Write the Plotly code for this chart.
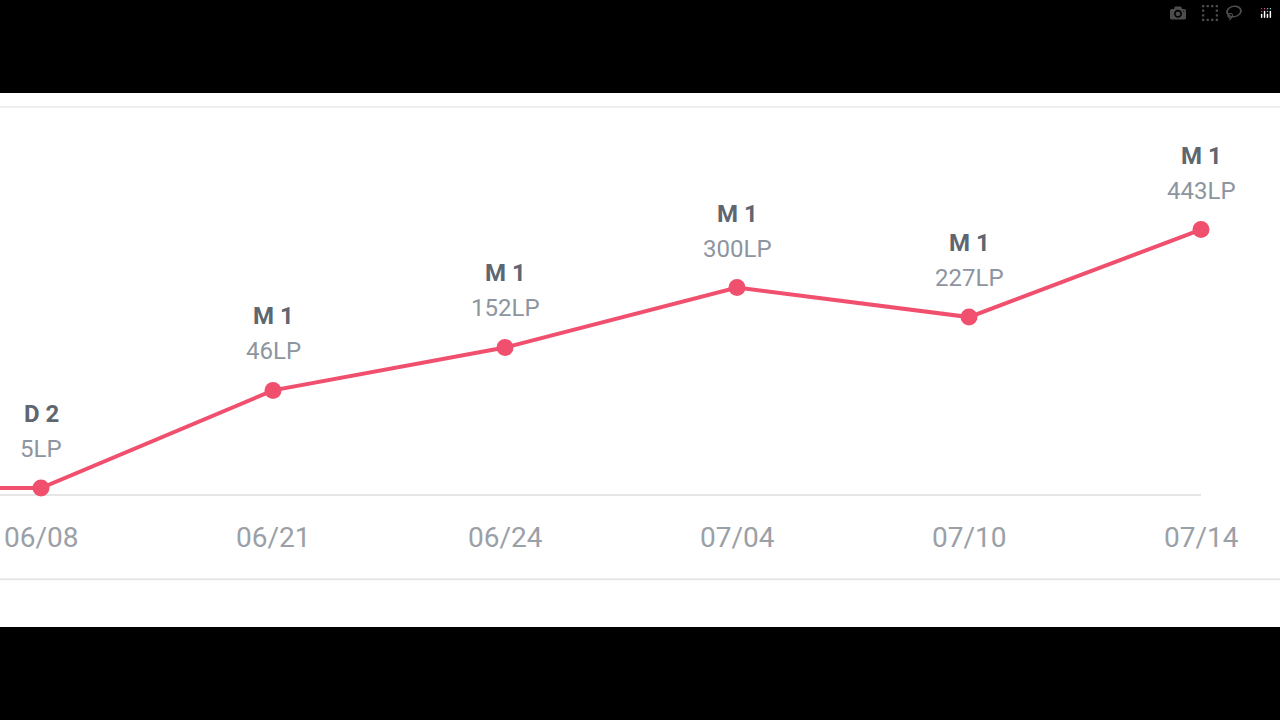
import plotly.graph_objects as go

# data
dates = ["06/08", "06/21", "06/24", "07/04", "07/10", "07/14"]
tiers = ["D 2", "M 1", "M 1", "M 1", "M 1", "M 1"]
lp = [5, 46, 152, 300, 227, 443]
prev_lp = 5  # point left of the visible area
tier_base = {"D 2": 0, "M 1": 200}

score = [tier_base[t] + v for t, v in zip(tiers, lp)]
xs = list(range(len(dates)))

red = "#f0506e"
fig = go.Figure()
fig.add_trace(go.Scatter(
    x=[-1] + xs, y=[prev_lp] + score, mode="lines+markers",
    line=dict(color=red, width=4), marker=dict(color=red, size=17),
    hoverinfo="skip"))

for x, s, t, v, d in zip(xs, score, tiers, lp, dates):
    fig.add_annotation(x=x, y=s, text="<b>" + t + "</b>", showarrow=False,
                       yshift=74, font=dict(family="Roboto", size=24, color="#5e6670"))
    fig.add_annotation(x=x, y=s, text=f"{v}LP", showarrow=False,
                       yshift=39, font=dict(family="Roboto", size=24, color="#8d959f"))
    fig.add_annotation(x=x, y=-116, text=d, showarrow=False,
                       font=dict(family="Roboto", size=28, color="#9aa0a6"))

fig.add_shape(type="line", xref="paper", x0=0, x1=1201 / 1280, y0=-12, y1=-12,
              line=dict(color="#e6e6e6", width=2), layer="below")
fig.add_shape(type="line", xref="paper", x0=0, x1=1, y0=-220, y1=-220,
              line=dict(color="#e6e6e6", width=2), layer="below")
fig.add_shape(type="line", xref="paper", x0=0, x1=1, y0=946, y1=946,
              line=dict(color="#eeeeee", width=2), layer="below")

fig.update_layout(
    width=1280, height=720, margin=dict(l=0, r=0, t=93, b=93),
    paper_bgcolor="black", plot_bgcolor="white", showlegend=False,
    xaxis=dict(range=[-41 / 232, 1239 / 232], visible=False, fixedrange=True),
    yaxis=dict(range=[-338.2, 980.3], visible=False, fixedrange=True),
)
fig.write_html("out.html", post_script="document.body.style.margin='0';")
